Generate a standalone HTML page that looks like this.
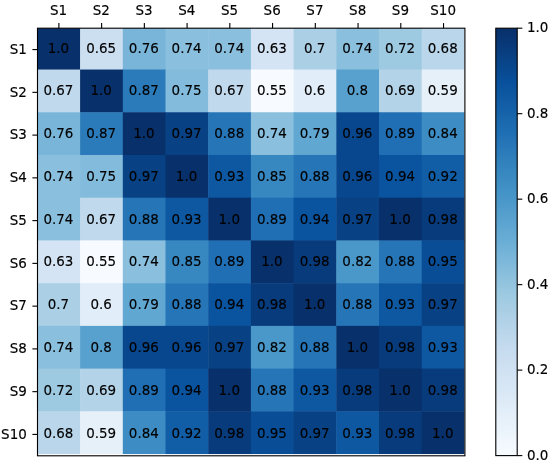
<!DOCTYPE html>
<html><head><meta charset="utf-8"><title>heatmap</title>
<style>
html,body{margin:0;padding:0;background:#fff;}
svg{display:block;}
text{font-family:"DejaVu Sans","Liberation Sans",sans-serif;font-size:13.89px;fill:#000;stroke:#000;stroke-width:0.15px;}
</style></head><body>
<svg width="550" height="464" viewBox="0 0 550 464">
<rect x="0" y="0" width="550" height="464" fill="#ffffff"/>
<defs><linearGradient id="cb" x1="0" y1="1" x2="0" y2="0">
<stop offset="0.0000" stop-color="#f7fbff"/><stop offset="0.0312" stop-color="#f1f7fd"/><stop offset="0.0625" stop-color="#eaf3fb"/><stop offset="0.0938" stop-color="#e4eff9"/><stop offset="0.1250" stop-color="#deebf7"/><stop offset="0.1562" stop-color="#d8e7f5"/><stop offset="0.1875" stop-color="#d2e3f3"/><stop offset="0.2188" stop-color="#ccdff1"/><stop offset="0.2500" stop-color="#c6dbef"/><stop offset="0.2812" stop-color="#bcd7eb"/><stop offset="0.3125" stop-color="#b2d2e8"/><stop offset="0.3438" stop-color="#a8cee4"/><stop offset="0.3750" stop-color="#9dcae1"/><stop offset="0.4062" stop-color="#91c3de"/><stop offset="0.4375" stop-color="#84bcdb"/><stop offset="0.4688" stop-color="#77b5d9"/><stop offset="0.5000" stop-color="#6aaed6"/><stop offset="0.5312" stop-color="#60a7d2"/><stop offset="0.5625" stop-color="#56a0ce"/><stop offset="0.5938" stop-color="#4b98ca"/><stop offset="0.6250" stop-color="#4191c6"/><stop offset="0.6562" stop-color="#3989c1"/><stop offset="0.6875" stop-color="#3181bd"/><stop offset="0.7188" stop-color="#2979b9"/><stop offset="0.7500" stop-color="#2070b4"/><stop offset="0.7812" stop-color="#1a68ae"/><stop offset="0.8125" stop-color="#1460a8"/><stop offset="0.8438" stop-color="#0e58a2"/><stop offset="0.8750" stop-color="#08509b"/><stop offset="0.9062" stop-color="#08488e"/><stop offset="0.9375" stop-color="#084082"/><stop offset="0.9688" stop-color="#083776"/><stop offset="1.0000" stop-color="#08306b"/>
</linearGradient>
<clipPath id="ax"><rect x="37.5" y="28.2" width="427.4" height="427.6"/></clipPath></defs>
<g clip-path="url(#ax)">
<rect x="37.4" y="26.8" width="43.2" height="43.23" fill="#08306b"/>
<rect x="80.1" y="26.8" width="43.2" height="43.23" fill="#ccdff1"/>
<rect x="122.8" y="26.8" width="43.2" height="43.23" fill="#79b5d9"/>
<rect x="165.5" y="26.8" width="43.2" height="43.23" fill="#8abfdd"/>
<rect x="208.2" y="26.8" width="43.2" height="43.23" fill="#8abfdd"/>
<rect x="250.9" y="26.8" width="43.2" height="43.23" fill="#d4e4f4"/>
<rect x="293.6" y="26.8" width="43.2" height="43.23" fill="#abd0e6"/>
<rect x="336.3" y="26.8" width="43.2" height="43.23" fill="#8abfdd"/>
<rect x="379" y="26.8" width="43.2" height="43.23" fill="#9dcae1"/>
<rect x="421.7" y="26.8" width="42.7" height="43.23" fill="#bad6eb"/>
<rect x="37.4" y="69.53" width="43.2" height="43.23" fill="#c1d9ed"/>
<rect x="80.1" y="69.53" width="43.2" height="43.23" fill="#08306b"/>
<rect x="122.8" y="69.53" width="43.2" height="43.23" fill="#2b7bba"/>
<rect x="165.5" y="69.53" width="43.2" height="43.23" fill="#82bbdb"/>
<rect x="208.2" y="69.53" width="43.2" height="43.23" fill="#c1d9ed"/>
<rect x="250.9" y="69.53" width="43.2" height="43.23" fill="#f7fbff"/>
<rect x="293.6" y="69.53" width="43.2" height="43.23" fill="#e1edf8"/>
<rect x="336.3" y="69.53" width="43.2" height="43.23" fill="#58a1cf"/>
<rect x="379" y="69.53" width="43.2" height="43.23" fill="#b3d3e8"/>
<rect x="421.7" y="69.53" width="42.7" height="43.23" fill="#e6f0f9"/>
<rect x="37.4" y="112.25" width="43.2" height="43.23" fill="#79b5d9"/>
<rect x="80.1" y="112.25" width="43.2" height="43.23" fill="#2b7bba"/>
<rect x="122.8" y="112.25" width="43.2" height="43.23" fill="#08306b"/>
<rect x="165.5" y="112.25" width="43.2" height="43.23" fill="#084285"/>
<rect x="208.2" y="112.25" width="43.2" height="43.23" fill="#2575b7"/>
<rect x="250.9" y="112.25" width="43.2" height="43.23" fill="#8abfdd"/>
<rect x="293.6" y="112.25" width="43.2" height="43.23" fill="#60a7d2"/>
<rect x="336.3" y="112.25" width="43.2" height="43.23" fill="#08478d"/>
<rect x="379" y="112.25" width="43.2" height="43.23" fill="#206fb4"/>
<rect x="421.7" y="112.25" width="42.7" height="43.23" fill="#3d8dc4"/>
<rect x="37.4" y="154.98" width="43.2" height="43.23" fill="#8abfdd"/>
<rect x="80.1" y="154.98" width="43.2" height="43.23" fill="#82bbdb"/>
<rect x="122.8" y="154.98" width="43.2" height="43.23" fill="#084285"/>
<rect x="165.5" y="154.98" width="43.2" height="43.23" fill="#08306b"/>
<rect x="208.2" y="154.98" width="43.2" height="43.23" fill="#0e58a2"/>
<rect x="250.9" y="154.98" width="43.2" height="43.23" fill="#3787c0"/>
<rect x="293.6" y="154.98" width="43.2" height="43.23" fill="#2575b7"/>
<rect x="336.3" y="154.98" width="43.2" height="43.23" fill="#08478d"/>
<rect x="379" y="154.98" width="43.2" height="43.23" fill="#0a539e"/>
<rect x="421.7" y="154.98" width="42.7" height="43.23" fill="#125ea6"/>
<rect x="37.4" y="197.7" width="43.2" height="43.23" fill="#8abfdd"/>
<rect x="80.1" y="197.7" width="43.2" height="43.23" fill="#c1d9ed"/>
<rect x="122.8" y="197.7" width="43.2" height="43.23" fill="#2575b7"/>
<rect x="165.5" y="197.7" width="43.2" height="43.23" fill="#0e58a2"/>
<rect x="208.2" y="197.7" width="43.2" height="43.23" fill="#08306b"/>
<rect x="250.9" y="197.7" width="43.2" height="43.23" fill="#206fb4"/>
<rect x="293.6" y="197.7" width="43.2" height="43.23" fill="#0a539e"/>
<rect x="336.3" y="197.7" width="43.2" height="43.23" fill="#084285"/>
<rect x="379" y="197.7" width="43.2" height="43.23" fill="#08306b"/>
<rect x="421.7" y="197.7" width="42.7" height="43.23" fill="#083b7c"/>
<rect x="37.4" y="240.43" width="43.2" height="43.23" fill="#d4e4f4"/>
<rect x="80.1" y="240.43" width="43.2" height="43.23" fill="#f7fbff"/>
<rect x="122.8" y="240.43" width="43.2" height="43.23" fill="#8abfdd"/>
<rect x="165.5" y="240.43" width="43.2" height="43.23" fill="#3787c0"/>
<rect x="208.2" y="240.43" width="43.2" height="43.23" fill="#206fb4"/>
<rect x="250.9" y="240.43" width="43.2" height="43.23" fill="#08306b"/>
<rect x="293.6" y="240.43" width="43.2" height="43.23" fill="#083b7c"/>
<rect x="336.3" y="240.43" width="43.2" height="43.23" fill="#4a98c9"/>
<rect x="379" y="240.43" width="43.2" height="43.23" fill="#2575b7"/>
<rect x="421.7" y="240.43" width="42.7" height="43.23" fill="#084d96"/>
<rect x="37.4" y="283.15" width="43.2" height="43.23" fill="#abd0e6"/>
<rect x="80.1" y="283.15" width="43.2" height="43.23" fill="#e1edf8"/>
<rect x="122.8" y="283.15" width="43.2" height="43.23" fill="#60a7d2"/>
<rect x="165.5" y="283.15" width="43.2" height="43.23" fill="#2575b7"/>
<rect x="208.2" y="283.15" width="43.2" height="43.23" fill="#0a539e"/>
<rect x="250.9" y="283.15" width="43.2" height="43.23" fill="#083b7c"/>
<rect x="293.6" y="283.15" width="43.2" height="43.23" fill="#08306b"/>
<rect x="336.3" y="283.15" width="43.2" height="43.23" fill="#2575b7"/>
<rect x="379" y="283.15" width="43.2" height="43.23" fill="#0e58a2"/>
<rect x="421.7" y="283.15" width="42.7" height="43.23" fill="#084285"/>
<rect x="37.4" y="325.88" width="43.2" height="43.23" fill="#8abfdd"/>
<rect x="80.1" y="325.88" width="43.2" height="43.23" fill="#58a1cf"/>
<rect x="122.8" y="325.88" width="43.2" height="43.23" fill="#08478d"/>
<rect x="165.5" y="325.88" width="43.2" height="43.23" fill="#08478d"/>
<rect x="208.2" y="325.88" width="43.2" height="43.23" fill="#084285"/>
<rect x="250.9" y="325.88" width="43.2" height="43.23" fill="#4a98c9"/>
<rect x="293.6" y="325.88" width="43.2" height="43.23" fill="#2575b7"/>
<rect x="336.3" y="325.88" width="43.2" height="43.23" fill="#08306b"/>
<rect x="379" y="325.88" width="43.2" height="43.23" fill="#083b7c"/>
<rect x="421.7" y="325.88" width="42.7" height="43.23" fill="#0e58a2"/>
<rect x="37.4" y="368.6" width="43.2" height="43.23" fill="#9dcae1"/>
<rect x="80.1" y="368.6" width="43.2" height="43.23" fill="#b3d3e8"/>
<rect x="122.8" y="368.6" width="43.2" height="43.23" fill="#206fb4"/>
<rect x="165.5" y="368.6" width="43.2" height="43.23" fill="#0a539e"/>
<rect x="208.2" y="368.6" width="43.2" height="43.23" fill="#08306b"/>
<rect x="250.9" y="368.6" width="43.2" height="43.23" fill="#2575b7"/>
<rect x="293.6" y="368.6" width="43.2" height="43.23" fill="#0e58a2"/>
<rect x="336.3" y="368.6" width="43.2" height="43.23" fill="#083b7c"/>
<rect x="379" y="368.6" width="43.2" height="43.23" fill="#08306b"/>
<rect x="421.7" y="368.6" width="42.7" height="43.23" fill="#083b7c"/>
<rect x="37.4" y="411.33" width="43.2" height="42.73" fill="#bad6eb"/>
<rect x="80.1" y="411.33" width="43.2" height="42.73" fill="#e6f0f9"/>
<rect x="122.8" y="411.33" width="43.2" height="42.73" fill="#3d8dc4"/>
<rect x="165.5" y="411.33" width="43.2" height="42.73" fill="#125ea6"/>
<rect x="208.2" y="411.33" width="43.2" height="42.73" fill="#083b7c"/>
<rect x="250.9" y="411.33" width="43.2" height="42.73" fill="#084d96"/>
<rect x="293.6" y="411.33" width="43.2" height="42.73" fill="#084285"/>
<rect x="336.3" y="411.33" width="43.2" height="42.73" fill="#0e58a2"/>
<rect x="379" y="411.33" width="43.2" height="42.73" fill="#083b7c"/>
<rect x="421.7" y="411.33" width="42.7" height="42.73" fill="#08306b"/>
</g>
<rect x="37.5" y="28.2" width="427.4" height="427.6" fill="none" stroke="#000" stroke-width="1.11"/>
<line x1="58.87" y1="28.2" x2="58.87" y2="23.09" stroke="#000" stroke-width="1.11"/>
<line x1="37.5" y1="49.58" x2="32.39" y2="49.58" stroke="#000" stroke-width="1.11"/>
<text transform="translate(58.47 14.7) scale(0.97 1)" text-anchor="middle">S1</text>
<text transform="translate(26.8 53.93) scale(0.97 1)" text-anchor="end">S1</text>
<line x1="101.61" y1="28.2" x2="101.61" y2="23.09" stroke="#000" stroke-width="1.11"/>
<line x1="37.5" y1="92.34" x2="32.39" y2="92.34" stroke="#000" stroke-width="1.11"/>
<text transform="translate(101.21 14.7) scale(0.97 1)" text-anchor="middle">S2</text>
<text transform="translate(26.8 96.69) scale(0.97 1)" text-anchor="end">S2</text>
<line x1="144.35" y1="28.2" x2="144.35" y2="23.09" stroke="#000" stroke-width="1.11"/>
<line x1="37.5" y1="135.1" x2="32.39" y2="135.1" stroke="#000" stroke-width="1.11"/>
<text transform="translate(143.95 14.7) scale(0.97 1)" text-anchor="middle">S3</text>
<text transform="translate(26.8 139.45) scale(0.97 1)" text-anchor="end">S3</text>
<line x1="187.09" y1="28.2" x2="187.09" y2="23.09" stroke="#000" stroke-width="1.11"/>
<line x1="37.5" y1="177.86" x2="32.39" y2="177.86" stroke="#000" stroke-width="1.11"/>
<text transform="translate(186.69 14.7) scale(0.97 1)" text-anchor="middle">S4</text>
<text transform="translate(26.8 182.21) scale(0.97 1)" text-anchor="end">S4</text>
<line x1="229.83" y1="28.2" x2="229.83" y2="23.09" stroke="#000" stroke-width="1.11"/>
<line x1="37.5" y1="220.62" x2="32.39" y2="220.62" stroke="#000" stroke-width="1.11"/>
<text transform="translate(229.43 14.7) scale(0.97 1)" text-anchor="middle">S5</text>
<text transform="translate(26.8 224.97) scale(0.97 1)" text-anchor="end">S5</text>
<line x1="272.57" y1="28.2" x2="272.57" y2="23.09" stroke="#000" stroke-width="1.11"/>
<line x1="37.5" y1="263.38" x2="32.39" y2="263.38" stroke="#000" stroke-width="1.11"/>
<text transform="translate(272.17 14.7) scale(0.97 1)" text-anchor="middle">S6</text>
<text transform="translate(26.8 267.73) scale(0.97 1)" text-anchor="end">S6</text>
<line x1="315.31" y1="28.2" x2="315.31" y2="23.09" stroke="#000" stroke-width="1.11"/>
<line x1="37.5" y1="306.14" x2="32.39" y2="306.14" stroke="#000" stroke-width="1.11"/>
<text transform="translate(314.91 14.7) scale(0.97 1)" text-anchor="middle">S7</text>
<text transform="translate(26.8 310.49) scale(0.97 1)" text-anchor="end">S7</text>
<line x1="358.05" y1="28.2" x2="358.05" y2="23.09" stroke="#000" stroke-width="1.11"/>
<line x1="37.5" y1="348.9" x2="32.39" y2="348.9" stroke="#000" stroke-width="1.11"/>
<text transform="translate(357.65 14.7) scale(0.97 1)" text-anchor="middle">S8</text>
<text transform="translate(26.8 353.25) scale(0.97 1)" text-anchor="end">S8</text>
<line x1="400.79" y1="28.2" x2="400.79" y2="23.09" stroke="#000" stroke-width="1.11"/>
<line x1="37.5" y1="391.66" x2="32.39" y2="391.66" stroke="#000" stroke-width="1.11"/>
<text transform="translate(400.39 14.7) scale(0.97 1)" text-anchor="middle">S9</text>
<text transform="translate(26.8 396.01) scale(0.97 1)" text-anchor="end">S9</text>
<line x1="443.53" y1="28.2" x2="443.53" y2="23.09" stroke="#000" stroke-width="1.11"/>
<line x1="37.5" y1="434.42" x2="32.39" y2="434.42" stroke="#000" stroke-width="1.11"/>
<text transform="translate(443.13 14.7) scale(0.97 1)" text-anchor="middle">S10</text>
<text transform="translate(26.8 438.77) scale(0.97 1)" text-anchor="end">S10</text>
<text transform="translate(58.45 53.3) scale(0.97 1)" text-anchor="middle">1.0</text>
<text transform="translate(101.15 53.3) scale(0.97 1)" text-anchor="middle">0.65</text>
<text transform="translate(143.85 53.3) scale(0.97 1)" text-anchor="middle">0.76</text>
<text transform="translate(186.55 53.3) scale(0.97 1)" text-anchor="middle">0.74</text>
<text transform="translate(229.25 53.3) scale(0.97 1)" text-anchor="middle">0.74</text>
<text transform="translate(271.95 53.3) scale(0.97 1)" text-anchor="middle">0.63</text>
<text transform="translate(314.65 53.3) scale(0.97 1)" text-anchor="middle">0.7</text>
<text transform="translate(357.35 53.3) scale(0.97 1)" text-anchor="middle">0.74</text>
<text transform="translate(400.05 53.3) scale(0.97 1)" text-anchor="middle">0.72</text>
<text transform="translate(442.75 53.3) scale(0.97 1)" text-anchor="middle">0.68</text>
<text transform="translate(58.45 95.1) scale(0.97 1)" text-anchor="middle">0.67</text>
<text transform="translate(101.15 95.1) scale(0.97 1)" text-anchor="middle">1.0</text>
<text transform="translate(143.85 95.1) scale(0.97 1)" text-anchor="middle">0.87</text>
<text transform="translate(186.55 95.1) scale(0.97 1)" text-anchor="middle">0.75</text>
<text transform="translate(229.25 95.1) scale(0.97 1)" text-anchor="middle">0.67</text>
<text transform="translate(271.95 95.1) scale(0.97 1)" text-anchor="middle">0.55</text>
<text transform="translate(314.65 95.1) scale(0.97 1)" text-anchor="middle">0.6</text>
<text transform="translate(357.35 95.1) scale(0.97 1)" text-anchor="middle">0.8</text>
<text transform="translate(400.05 95.1) scale(0.97 1)" text-anchor="middle">0.69</text>
<text transform="translate(442.75 95.1) scale(0.97 1)" text-anchor="middle">0.59</text>
<text transform="translate(58.45 138.1) scale(0.97 1)" text-anchor="middle">0.76</text>
<text transform="translate(101.15 138.1) scale(0.97 1)" text-anchor="middle">0.87</text>
<text transform="translate(143.85 138.1) scale(0.97 1)" text-anchor="middle">1.0</text>
<text transform="translate(186.55 138.1) scale(0.97 1)" text-anchor="middle">0.97</text>
<text transform="translate(229.25 138.1) scale(0.97 1)" text-anchor="middle">0.88</text>
<text transform="translate(271.95 138.1) scale(0.97 1)" text-anchor="middle">0.74</text>
<text transform="translate(314.65 138.1) scale(0.97 1)" text-anchor="middle">0.79</text>
<text transform="translate(357.35 138.1) scale(0.97 1)" text-anchor="middle">0.96</text>
<text transform="translate(400.05 138.1) scale(0.97 1)" text-anchor="middle">0.89</text>
<text transform="translate(442.75 138.1) scale(0.97 1)" text-anchor="middle">0.84</text>
<text transform="translate(58.45 181.1) scale(0.97 1)" text-anchor="middle">0.74</text>
<text transform="translate(101.15 181.1) scale(0.97 1)" text-anchor="middle">0.75</text>
<text transform="translate(143.85 181.1) scale(0.97 1)" text-anchor="middle">0.97</text>
<text transform="translate(186.55 181.1) scale(0.97 1)" text-anchor="middle">1.0</text>
<text transform="translate(229.25 181.1) scale(0.97 1)" text-anchor="middle">0.93</text>
<text transform="translate(271.95 181.1) scale(0.97 1)" text-anchor="middle">0.85</text>
<text transform="translate(314.65 181.1) scale(0.97 1)" text-anchor="middle">0.88</text>
<text transform="translate(357.35 181.1) scale(0.97 1)" text-anchor="middle">0.96</text>
<text transform="translate(400.05 181.1) scale(0.97 1)" text-anchor="middle">0.94</text>
<text transform="translate(442.75 181.1) scale(0.97 1)" text-anchor="middle">0.92</text>
<text transform="translate(58.45 223.9) scale(0.97 1)" text-anchor="middle">0.74</text>
<text transform="translate(101.15 223.9) scale(0.97 1)" text-anchor="middle">0.67</text>
<text transform="translate(143.85 223.9) scale(0.97 1)" text-anchor="middle">0.88</text>
<text transform="translate(186.55 223.9) scale(0.97 1)" text-anchor="middle">0.93</text>
<text transform="translate(229.25 223.9) scale(0.97 1)" text-anchor="middle">1.0</text>
<text transform="translate(271.95 223.9) scale(0.97 1)" text-anchor="middle">0.89</text>
<text transform="translate(314.65 223.9) scale(0.97 1)" text-anchor="middle">0.94</text>
<text transform="translate(357.35 223.9) scale(0.97 1)" text-anchor="middle">0.97</text>
<text transform="translate(400.05 223.9) scale(0.97 1)" text-anchor="middle">1.0</text>
<text transform="translate(442.75 223.9) scale(0.97 1)" text-anchor="middle">0.98</text>
<text transform="translate(58.45 265.9) scale(0.97 1)" text-anchor="middle">0.63</text>
<text transform="translate(101.15 265.9) scale(0.97 1)" text-anchor="middle">0.55</text>
<text transform="translate(143.85 265.9) scale(0.97 1)" text-anchor="middle">0.74</text>
<text transform="translate(186.55 265.9) scale(0.97 1)" text-anchor="middle">0.85</text>
<text transform="translate(229.25 265.9) scale(0.97 1)" text-anchor="middle">0.89</text>
<text transform="translate(271.95 265.9) scale(0.97 1)" text-anchor="middle">1.0</text>
<text transform="translate(314.65 265.9) scale(0.97 1)" text-anchor="middle">0.98</text>
<text transform="translate(357.35 265.9) scale(0.97 1)" text-anchor="middle">0.82</text>
<text transform="translate(400.05 265.9) scale(0.97 1)" text-anchor="middle">0.88</text>
<text transform="translate(442.75 265.9) scale(0.97 1)" text-anchor="middle">0.95</text>
<text transform="translate(58.45 308.9) scale(0.97 1)" text-anchor="middle">0.7</text>
<text transform="translate(101.15 308.9) scale(0.97 1)" text-anchor="middle">0.6</text>
<text transform="translate(143.85 308.9) scale(0.97 1)" text-anchor="middle">0.79</text>
<text transform="translate(186.55 308.9) scale(0.97 1)" text-anchor="middle">0.88</text>
<text transform="translate(229.25 308.9) scale(0.97 1)" text-anchor="middle">0.94</text>
<text transform="translate(271.95 308.9) scale(0.97 1)" text-anchor="middle">0.98</text>
<text transform="translate(314.65 308.9) scale(0.97 1)" text-anchor="middle">1.0</text>
<text transform="translate(357.35 308.9) scale(0.97 1)" text-anchor="middle">0.88</text>
<text transform="translate(400.05 308.9) scale(0.97 1)" text-anchor="middle">0.93</text>
<text transform="translate(442.75 308.9) scale(0.97 1)" text-anchor="middle">0.97</text>
<text transform="translate(58.45 351.7) scale(0.97 1)" text-anchor="middle">0.74</text>
<text transform="translate(101.15 351.7) scale(0.97 1)" text-anchor="middle">0.8</text>
<text transform="translate(143.85 351.7) scale(0.97 1)" text-anchor="middle">0.96</text>
<text transform="translate(186.55 351.7) scale(0.97 1)" text-anchor="middle">0.96</text>
<text transform="translate(229.25 351.7) scale(0.97 1)" text-anchor="middle">0.97</text>
<text transform="translate(271.95 351.7) scale(0.97 1)" text-anchor="middle">0.82</text>
<text transform="translate(314.65 351.7) scale(0.97 1)" text-anchor="middle">0.88</text>
<text transform="translate(357.35 351.7) scale(0.97 1)" text-anchor="middle">1.0</text>
<text transform="translate(400.05 351.7) scale(0.97 1)" text-anchor="middle">0.98</text>
<text transform="translate(442.75 351.7) scale(0.97 1)" text-anchor="middle">0.93</text>
<text transform="translate(58.45 394.7) scale(0.97 1)" text-anchor="middle">0.72</text>
<text transform="translate(101.15 394.7) scale(0.97 1)" text-anchor="middle">0.69</text>
<text transform="translate(143.85 394.7) scale(0.97 1)" text-anchor="middle">0.89</text>
<text transform="translate(186.55 394.7) scale(0.97 1)" text-anchor="middle">0.94</text>
<text transform="translate(229.25 394.7) scale(0.97 1)" text-anchor="middle">1.0</text>
<text transform="translate(271.95 394.7) scale(0.97 1)" text-anchor="middle">0.88</text>
<text transform="translate(314.65 394.7) scale(0.97 1)" text-anchor="middle">0.93</text>
<text transform="translate(357.35 394.7) scale(0.97 1)" text-anchor="middle">0.98</text>
<text transform="translate(400.05 394.7) scale(0.97 1)" text-anchor="middle">1.0</text>
<text transform="translate(442.75 394.7) scale(0.97 1)" text-anchor="middle">0.98</text>
<text transform="translate(58.45 437.9) scale(0.97 1)" text-anchor="middle">0.68</text>
<text transform="translate(101.15 437.9) scale(0.97 1)" text-anchor="middle">0.59</text>
<text transform="translate(143.85 437.9) scale(0.97 1)" text-anchor="middle">0.84</text>
<text transform="translate(186.55 437.9) scale(0.97 1)" text-anchor="middle">0.92</text>
<text transform="translate(229.25 437.9) scale(0.97 1)" text-anchor="middle">0.98</text>
<text transform="translate(271.95 437.9) scale(0.97 1)" text-anchor="middle">0.95</text>
<text transform="translate(314.65 437.9) scale(0.97 1)" text-anchor="middle">0.97</text>
<text transform="translate(357.35 437.9) scale(0.97 1)" text-anchor="middle">0.93</text>
<text transform="translate(400.05 437.9) scale(0.97 1)" text-anchor="middle">0.98</text>
<text transform="translate(442.75 437.9) scale(0.97 1)" text-anchor="middle">1.0</text>
<rect x="495.8" y="28.2" width="21.4" height="427.4" fill="url(#cb)" stroke="#000" stroke-width="1.11"/>
<line x1="517.2" y1="455.6" x2="522.31" y2="455.6" stroke="#000" stroke-width="1.11"/>
<text transform="translate(527 459.75) scale(0.97 1)">0.0</text>
<line x1="517.2" y1="370.12" x2="522.31" y2="370.12" stroke="#000" stroke-width="1.11"/>
<text transform="translate(527 374.27) scale(0.97 1)">0.2</text>
<line x1="517.2" y1="284.64" x2="522.31" y2="284.64" stroke="#000" stroke-width="1.11"/>
<text transform="translate(527 288.79) scale(0.97 1)">0.4</text>
<line x1="517.2" y1="199.16" x2="522.31" y2="199.16" stroke="#000" stroke-width="1.11"/>
<text transform="translate(527 203.31) scale(0.97 1)">0.6</text>
<line x1="517.2" y1="113.68" x2="522.31" y2="113.68" stroke="#000" stroke-width="1.11"/>
<text transform="translate(527 117.83) scale(0.97 1)">0.8</text>
<line x1="517.2" y1="28.2" x2="522.31" y2="28.2" stroke="#000" stroke-width="1.11"/>
<text transform="translate(527 32.35) scale(0.97 1)">1.0</text>
</svg>
</body></html>
